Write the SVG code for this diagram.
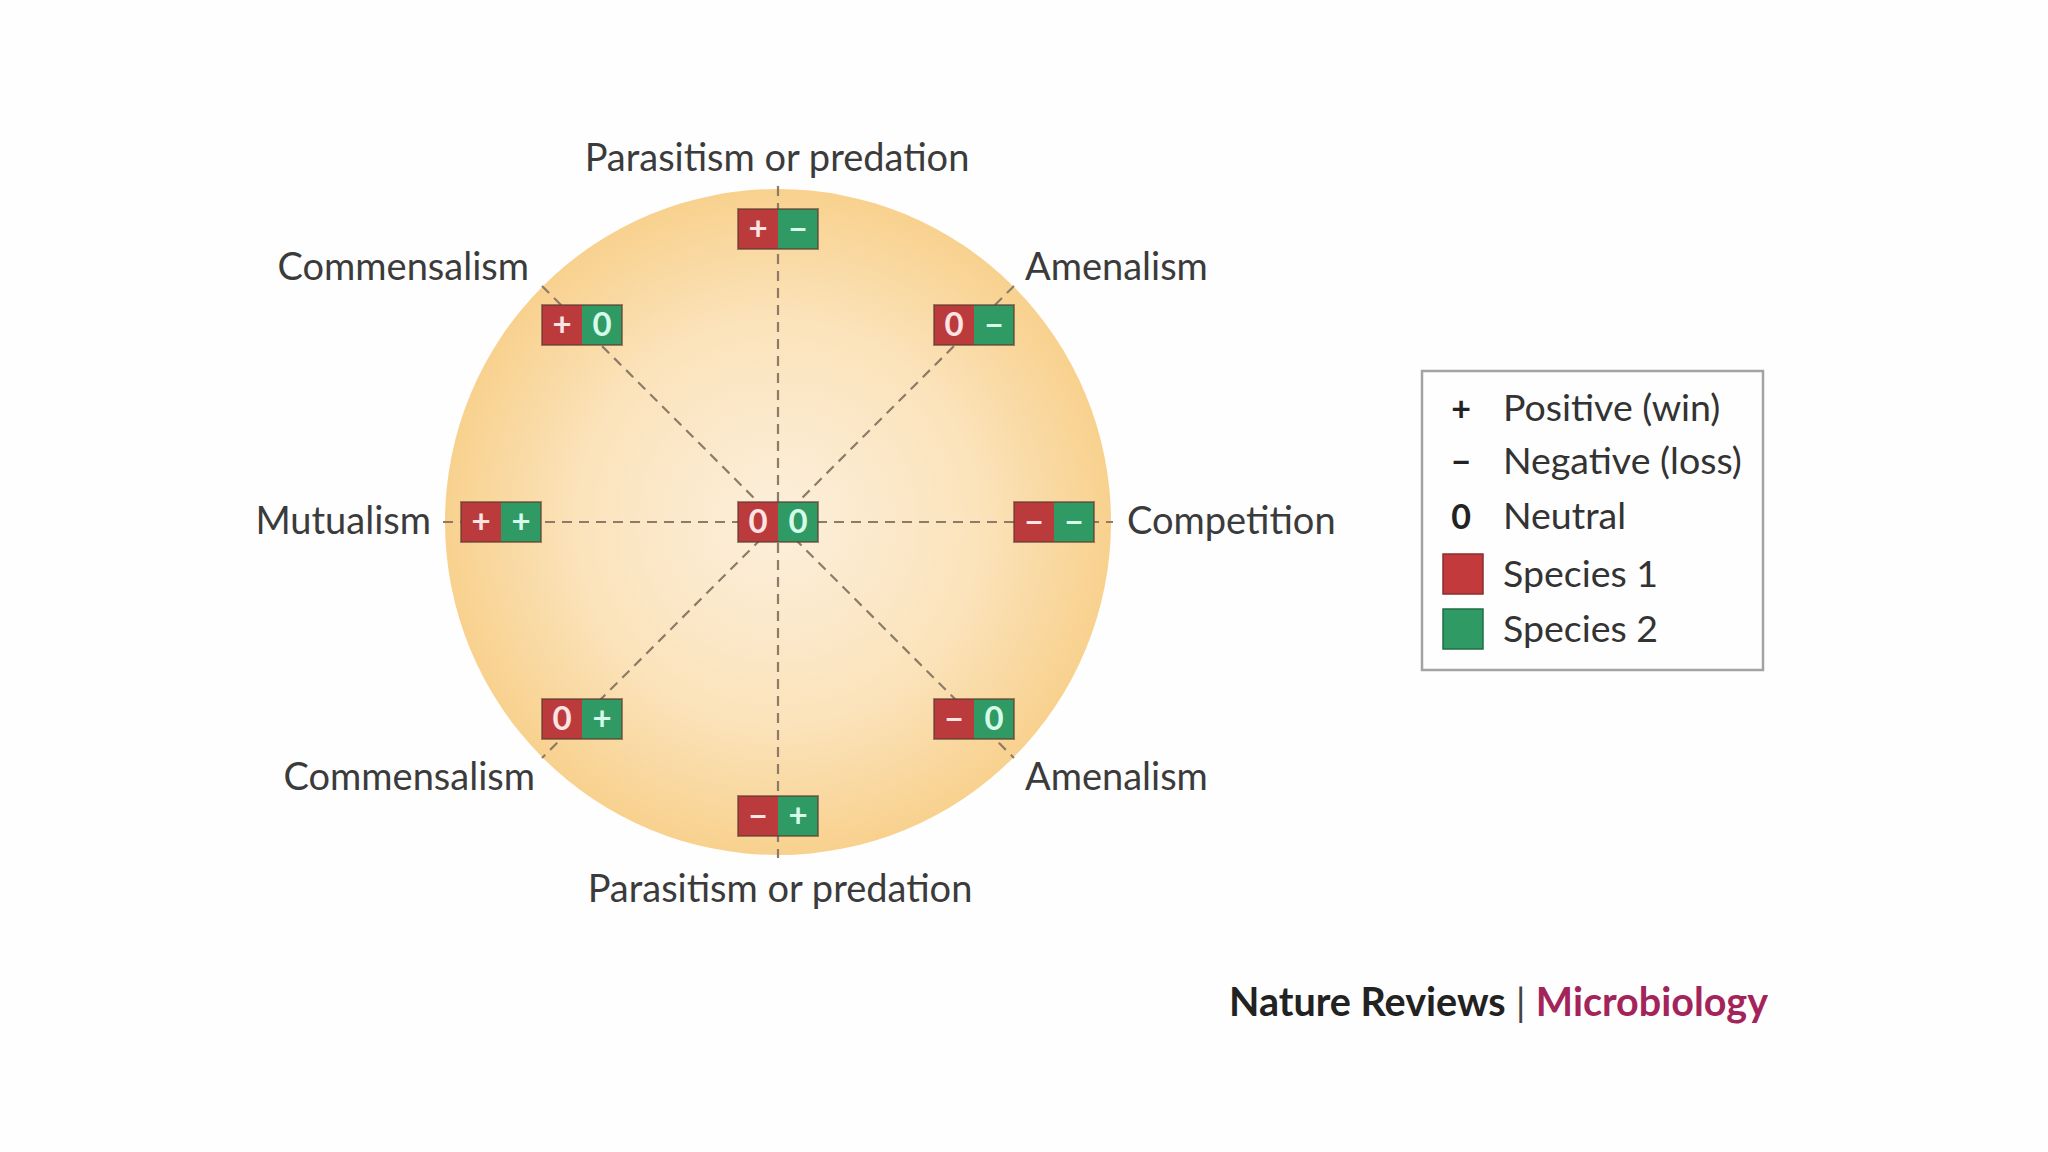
<svg xmlns="http://www.w3.org/2000/svg" width="2048" height="1152" viewBox="0 0 2048 1152">
<defs>
<radialGradient id="disc" cx="778" cy="522" r="333" gradientUnits="userSpaceOnUse">
<stop offset="0" stop-color="#fcefdc"/>
<stop offset="0.6" stop-color="#fbe3bb"/>
<stop offset="1" stop-color="#f8d18e"/>
</radialGradient>
<style>
.lbl{font-family:Lato,"Liberation Sans",sans-serif;font-size:38px;fill:#3b3b3b}
.r{fill:#bb3b3d}
.g{fill:#2f9a63}
.bx{fill:none;stroke:#5e3a2e;stroke-width:2;stroke-opacity:0.6}
.gr{font-family:Lato,"Liberation Sans",sans-serif;font-weight:bold;font-size:33px;fill:#fde4e4;text-anchor:middle}
.gg{font-family:Lato,"Liberation Sans",sans-serif;font-weight:bold;font-size:33px;fill:#d6fbea;text-anchor:middle}
.dash{fill:none;stroke:#8d7b68;stroke-width:2.2;stroke-dasharray:10 7}
.leg{font-family:Lato,"Liberation Sans",sans-serif;font-size:37.5px;fill:#333}
.sym{font-family:Lato,"Liberation Sans",sans-serif;font-weight:bold;font-size:34px;fill:#222;text-anchor:middle}
</style>
</defs>
<rect width="2048" height="1152" fill="#fefefe"/>
<circle cx="778" cy="522" r="333" fill="url(#disc)"/>
<g id="connectors">
<line class="dash" x1="778" y1="186" x2="778" y2="858"/>
<line class="dash" x1="443" y1="522" x2="1113" y2="522"/>
<line class="dash" x1="542" y1="286" x2="1014" y2="758"/>
<line class="dash" x1="1014" y1="286" x2="542" y2="758"/>
</g>
<g id="node-parasitism-top">
<text class="lbl" x="777" y="171" text-anchor="middle">Parasitism or predation</text>
<rect class="r" x="738" y="209" width="40" height="40"/><rect class="g" x="778" y="209" width="40" height="40"/><rect class="bx" x="738" y="209" width="80" height="40"/>
<text class="gr" x="758" y="240">+</text><text class="gg" x="798" y="240">−</text>
</g>
<g id="node-commensalism-top">
<text class="lbl" x="529" y="280" text-anchor="end">Commensalism</text>
<rect class="r" x="542" y="305" width="40" height="40"/><rect class="g" x="582" y="305" width="40" height="40"/><rect class="bx" x="542" y="305" width="80" height="40"/>
<text class="gr" x="562" y="336">+</text><text class="gg" x="602" y="336">0</text>
</g>
<g id="node-amenalism-top">
<text class="lbl" x="1025" y="280">Amenalism</text>
<rect class="r" x="934" y="305" width="40" height="40"/><rect class="g" x="974" y="305" width="40" height="40"/><rect class="bx" x="934" y="305" width="80" height="40"/>
<text class="gr" x="954" y="336">0</text><text class="gg" x="994" y="336">−</text>
</g>
<g id="node-mutualism">
<text class="lbl" x="431" y="534" text-anchor="end">Mutualism</text>
<rect class="r" x="461" y="502" width="40" height="40"/><rect class="g" x="501" y="502" width="40" height="40"/><rect class="bx" x="461" y="502" width="80" height="40"/>
<text class="gr" x="481" y="533">+</text><text class="gg" x="521" y="533">+</text>
</g>
<g id="node-neutral">
<rect class="r" x="738" y="502" width="40" height="40"/><rect class="g" x="778" y="502" width="40" height="40"/><rect class="bx" x="738" y="502" width="80" height="40"/>
<text class="gr" x="758" y="533">0</text><text class="gg" x="798" y="533">0</text>
</g>
<g id="node-competition">
<text class="lbl" x="1127" y="534">Competition</text>
<rect class="r" x="1014" y="502" width="40" height="40"/><rect class="g" x="1054" y="502" width="40" height="40"/><rect class="bx" x="1014" y="502" width="80" height="40"/>
<text class="gr" x="1034" y="533">−</text><text class="gg" x="1074" y="533">−</text>
</g>
<g id="node-commensalism-bottom">
<text class="lbl" x="535" y="790" text-anchor="end">Commensalism</text>
<rect class="r" x="542" y="699" width="40" height="40"/><rect class="g" x="582" y="699" width="40" height="40"/><rect class="bx" x="542" y="699" width="80" height="40"/>
<text class="gr" x="562" y="730">0</text><text class="gg" x="602" y="730">+</text>
</g>
<g id="node-amenalism-bottom">
<text class="lbl" x="1025" y="790">Amenalism</text>
<rect class="r" x="934" y="699" width="40" height="40"/><rect class="g" x="974" y="699" width="40" height="40"/><rect class="bx" x="934" y="699" width="80" height="40"/>
<text class="gr" x="954" y="730">−</text><text class="gg" x="994" y="730">0</text>
</g>
<g id="node-parasitism-bottom">
<text class="lbl" x="780" y="902" text-anchor="middle">Parasitism or predation</text>
<rect class="r" x="738" y="796" width="40" height="40"/><rect class="g" x="778" y="796" width="40" height="40"/><rect class="bx" x="738" y="796" width="80" height="40"/>
<text class="gr" x="758" y="827">−</text><text class="gg" x="798" y="827">+</text>
</g>
<g id="legend">
<rect x="1422" y="371" width="341" height="299" fill="#fefefe" stroke="#a3a3a3" stroke-width="2.5"/>
<text class="sym" x="1461" y="421">+</text><text class="leg" x="1503" y="421">Positive (win)</text>
<text class="sym" x="1461" y="474">−</text><text class="leg" x="1503" y="474">Negative (loss)</text>
<text class="sym" x="1461" y="529">0</text><text class="leg" x="1503" y="529">Neutral</text>
<rect x="1443" y="554" width="40" height="40" fill="#c23a3c" stroke="#8a2e2e" stroke-width="1.5"/><text class="leg" x="1503" y="587">Species 1</text>
<rect x="1443" y="609" width="40" height="40" fill="#2f9a63" stroke="#1f6e45" stroke-width="1.5"/><text class="leg" x="1503" y="642">Species 2</text>
</g>
<g id="footer">
<text x="1229" y="1016" font-family="Lato,'Liberation Sans',sans-serif" font-weight="bold" font-size="39.5"><tspan fill="#222">Nature Reviews</tspan><tspan fill="#444" font-weight="normal"> | </tspan><tspan fill="#a3245a">Microbiology</tspan></text>
</g>
</svg>
